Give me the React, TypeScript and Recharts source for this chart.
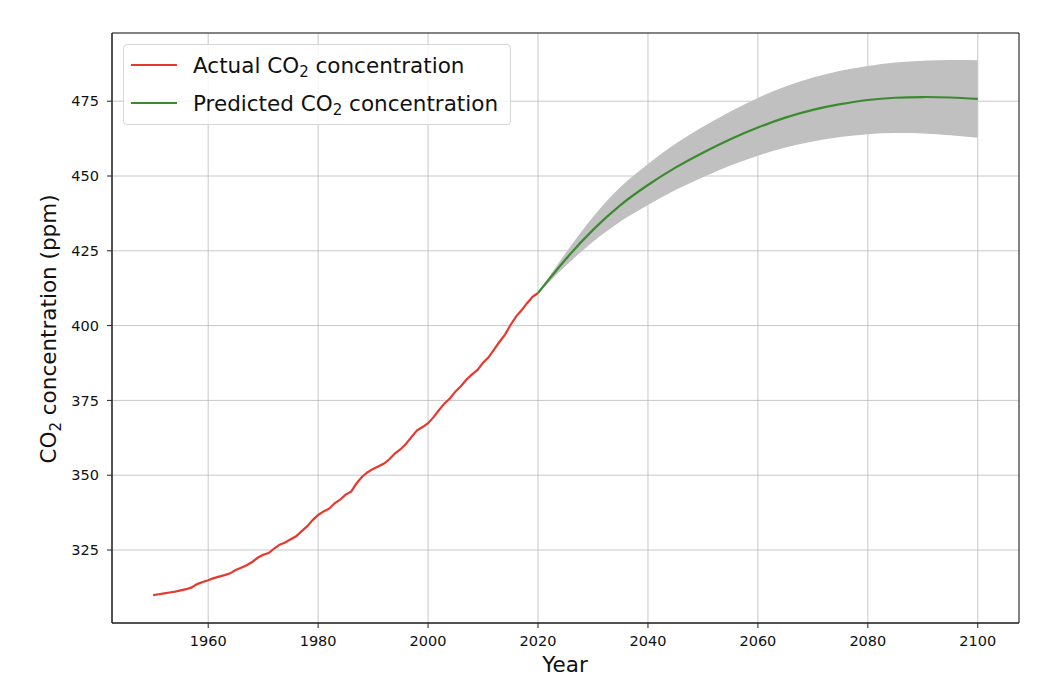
import React from 'react';
import {
  Area,
  CartesianGrid,
  ComposedChart,
  Line,
  ReferenceArea,
  XAxis,
  YAxis,
} from 'recharts';

// observed yearly mean CO2 (ppm), 1950-2020
const actualYears = [
  1950, 1951, 1952, 1953, 1954, 1955, 1956, 1957, 1958, 1959,
  1960, 1961, 1962, 1963, 1964, 1965, 1966, 1967, 1968, 1969,
  1970, 1971, 1972, 1973, 1974, 1975, 1976, 1977, 1978, 1979,
  1980, 1981, 1982, 1983, 1984, 1985, 1986, 1987, 1988, 1989,
  1990, 1991, 1992, 1993, 1994, 1995, 1996, 1997, 1998, 1999,
  2000, 2001, 2002, 2003, 2004, 2005, 2006, 2007, 2008, 2009,
  2010, 2011, 2012, 2013, 2014, 2015, 2016, 2017, 2018, 2019,
  2020,
];
const actualCo2 = [
  309.9, 310.2, 310.5, 310.8, 311.1, 311.5, 311.9, 312.5, 313.6, 314.3,
  314.9, 315.6, 316.1, 316.6, 317.2, 318.3, 319.1, 319.9, 321.0, 322.4,
  323.4, 324.0, 325.5, 326.8, 327.5, 328.6, 329.6, 331.3, 332.9, 335.0,
  336.7, 337.9, 338.8, 340.6, 341.8, 343.5, 344.5, 347.3, 349.5, 351.0,
  352.1, 353.0, 353.9, 355.4, 357.3, 358.7, 360.5, 362.8, 365.0, 366.1,
  367.4, 369.4, 371.8, 374.0, 375.7, 378.0, 379.8, 382.0, 383.7, 385.2,
  387.6, 389.4, 392.0, 394.6, 397.0, 400.2, 403.0, 405.1, 407.5, 409.6,
  410.9,
];

// forecast 2020-2100 with its confidence band
const predYears = [
  2020, 2025, 2030, 2035, 2040, 2045, 2050, 2055, 2060,
  2065, 2070, 2075, 2080, 2085, 2090, 2095, 2100,
];
const predCo2 = [
  410.9, 422.1, 432.0, 440.3, 447.0, 452.8, 457.8, 462.3, 466.2,
  469.5, 472.1, 474.0, 475.4, 476.15, 476.4, 476.25, 475.8,
];
const predUpper = [
  410.9, 424.2, 436.3, 446.3, 454.0, 460.8, 466.5, 471.6, 476.1,
  479.9, 482.9, 485.2, 486.8, 487.9, 488.5, 488.75, 488.7,
];
const predLower = [
  410.9, 419.9, 428.0, 434.8, 440.3, 445.3, 449.6, 453.5, 456.8,
  459.5, 461.5, 463.0, 464.0, 464.35, 464.2, 463.65, 462.8,
];

const xTicks = [1960, 1980, 2000, 2020, 2040, 2060, 2080, 2100];
const yTicks = [325, 350, 375, 400, 425, 450, 475];

const X_DOMAIN = [1942.5, 2107.5];
const Y_DOMAIN = [300.6, 497.8];

const FONT = '"DejaVu Sans", sans-serif';
const RED = '#e6392e';
const GREEN = '#3b8a2f';

const actualData = actualYears.map((year, i) => ({ year, co2: actualCo2[i] }));
const predData = predYears.map((year, i) => ({
  year,
  co2: predCo2[i],
  band: [predLower[i], predUpper[i]],
}));

function YLabel() {
  return (
    <text
      transform='translate(55.5, 329) rotate(-90)'
      textAnchor='middle'
      fontFamily={FONT}
      fontSize={21.5}
      fill='#111'
    >
      <tspan>CO</tspan>
      <tspan fontSize={15} dy={5}>2</tspan>
      <tspan dy={-5}> concentration (ppm)</tspan>
    </text>
  );
}

function XLabel() {
  return (
    <text x={565} y={672} textAnchor='middle' fontFamily={FONT} fontSize={21.5} fill='#111'>
      Year
    </text>
  );
}

function LegendBox() {
  const row = (color: string, label: string) => (
    <div style={{ display: 'flex', alignItems: 'center', height: 38 }}>
      <div style={{ width: 46, height: 2.2, background: color, marginLeft: 7, marginRight: 16 }} />
      <span>
        {label} CO<sub style={{ fontSize: 15, verticalAlign: -4, lineHeight: 0 }}>2</sub> concentration
      </span>
    </div>
  );
  return (
    <div
      style={{
        position: 'absolute',
        left: 123,
        top: 44,
        width: 388,
        height: 81,
        boxSizing: 'border-box',
        border: '1px solid #d6d6d6',
        borderRadius: 4,
        background: 'rgba(255,255,255,0.8)',
        fontFamily: FONT,
        fontSize: 21.5,
        color: '#111',
        paddingTop: 1,
      }}
    >
      {row(RED, 'Actual')}
      {row(GREEN, 'Predicted')}
    </div>
  );
}

export default function App() {
  return (
    <div style={{ position: 'absolute', left: 0, top: 0, width: 1046, height: 680, background: '#fff' }}>
      <ComposedChart
        width={1046}
        height={680}
        margin={{ top: 33, right: 27, left: 0, bottom: 0 }}
      >
        <Area
          data={predData}
          dataKey='band'
          type='natural'
          stroke='none'
          fill='#c0c0c0'
          fillOpacity={1}
          isAnimationActive={false}
        />
        <CartesianGrid stroke='#b0b0b0' strokeOpacity={0.7} />
        <XAxis
          type='number'
          dataKey='year'
          domain={X_DOMAIN}
          ticks={xTicks}
          allowDataOverflow
          height={57}
          tickSize={5}
          tickMargin={8}
          stroke='#222'
          tick={{ fill: '#111', fontSize: 14.5, fontFamily: FONT }}
          label={<XLabel />}
        />
        <YAxis
          type='number'
          domain={Y_DOMAIN}
          ticks={yTicks}
          allowDataOverflow
          width={112}
          tickSize={5}
          tickMargin={8}
          stroke='#222'
          tick={{ fill: '#111', fontSize: 14.5, fontFamily: FONT }}
          label={<YLabel />}
        />
        <Line
          data={actualData}
          dataKey='co2'
          type='linear'
          stroke={RED}
          strokeWidth={2.2}
          dot={false}
          isAnimationActive={false}
        />
        <Line
          data={predData}
          dataKey='co2'
          type='natural'
          stroke={GREEN}
          strokeWidth={2.2}
          dot={false}
          isAnimationActive={false}
        />
        <ReferenceArea
          x1={X_DOMAIN[0]}
          x2={X_DOMAIN[1]}
          y1={Y_DOMAIN[0]}
          y2={Y_DOMAIN[1]}
          fill='none'
          stroke='#222'
          strokeWidth={1}
          ifOverflow='visible'
        />
      </ComposedChart>
      <LegendBox />
    </div>
  );
}
